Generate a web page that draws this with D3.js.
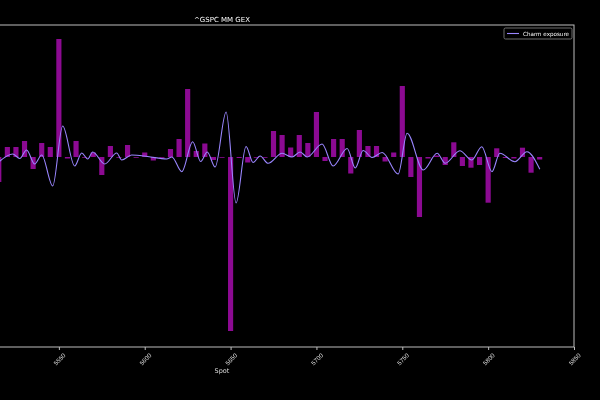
<!DOCTYPE html>
<html>
<head>
<meta charset="utf-8">
<script src="https://cdn.jsdelivr.net/npm/d3@7"></script>
<style>
  html, body { margin: 0; padding: 0; background: #000; }
  svg { display: block; font-family: "DejaVu Sans", sans-serif; will-change: transform; }
  text { -webkit-font-smoothing: antialiased; }
</style>
</head>
<body>
<svg id="chart" width="600" height="400"></svg>
<script>
// ---- Data ----
const strikes = [5515,5520,5525,5530,5535,5540,5545,5550,5555,5560,5565,5570,5575,5580,5585,5590,5595,5600,5605,5610,5615,5620,5625,5630,5635,5640,5645,5650,5655,5660,5665,5670,5675,5680,5685,5690,5695,5700,5705,5710,5715,5720,5725,5730,5735,5740,5745,5750,5755,5760,5765,5770,5775,5780,5785,5790,5795,5800,5805,5810,5815,5820,5825,5830];
const gexValues = [-0.25,0.10,0.10,0.16,-0.12,0.14,0.10,1.18,-0.015,0.16,0.0,0.045,-0.18,0.11,0.0,0.12,0.0,0.045,-0.035,0.0,0.08,0.18,0.68,0.06,0.135,-0.03,-0.008,-1.74,-0.01,-0.055,0.0,0.0,0.26,0.22,0.095,0.22,0.14,0.45,-0.04,0.18,0.18,-0.165,0.27,0.11,0.11,-0.045,0.045,0.71,-0.20,-0.60,-0.015,0.015,-0.08,0.147,-0.09,-0.107,-0.08,-0.457,0.087,-0.01,-0.015,0.093,-0.157,-0.025];

const charmSpot = [5515,5523.1,5527.2,5531.2,5535.9,5540.0,5546.4,5552.2,5559.2,5563.3,5566.8,5569.7,5576.7,5583.7,5586.6,5592.4,5601.7,5612.8,5615.8,5621.6,5627.9,5632.6,5636.4,5641.0,5647.4,5653.2,5659.0,5663.1,5667.2,5671.8,5680.0,5685.8,5690.5,5694.6,5703.3,5709.7,5717.9,5722.6,5727.2,5732.4,5738.3,5747.6,5752.8,5762.2,5770.3,5775.0,5783.5,5790.5,5796.3,5802.2,5806.8,5815.6,5822.6,5830.1];
const charmValues = [-0.05,0.03,-0.015,0.07,-0.07,0.02,-0.29,0.31,-0.09,0.04,-0.02,0.05,-0.07,0.04,-0.03,0.02,0.005,-0.02,0.0,-0.147,0.153,-0.045,0.05,-0.10,0.45,-0.46,0.105,-0.055,0.01,-0.063,0.037,0.0,0.05,0.0,0.13,-0.09,0.085,-0.11,0.065,-0.005,0.045,-0.17,0.237,-0.13,0.037,-0.063,0.063,-0.03,0.103,-0.147,0.037,-0.047,0.053,-0.123];

const xTicks = [5550,5600,5650,5700,5750,5800,5850];
const titleText = "^GSPC MM GEX";
const xLabel = "Spot";
const legendLabel = "Charm exposure";

// ---- Layout ----
const svg = d3.select("#chart");
const plot = { left: -130, right: 574, top: 25, bottom: 347 };
const barColor = "#8c0a92";
const lineColor = "#9a86ff";
const fg = "#dcdcdc";

const x = d3.scaleLinear().domain([5440, 5850]).range([plot.left, plot.right]);
const y = d3.scaleLinear().domain([-1.90, 1.32]).range([plot.bottom, plot.top]);
const barW = 3;

svg.append("rect").attr("width", 600).attr("height", 400).attr("fill", "#000");

// Bars
svg.append("g").selectAll("rect")
  .data(strikes.map((s, i) => ({ s, v: gexValues[i] })))
  .join("rect")
  .attr("x", d => x(d.s - barW / 2))
  .attr("width", d => x(d.s + barW / 2) - x(d.s - barW / 2))
  .attr("y", d => y(Math.max(0, d.v)))
  .attr("height", d => Math.max(0.8, Math.abs(y(d.v) - y(0))))
  .attr("fill", barColor);

// Charm line
const line = d3.line()
  .x(d => x(d[0]))
  .y(d => y(d[1]))
  .curve(d3.curveMonotoneX);
svg.append("path")
  .datum(charmSpot.map((s, i) => [s, charmValues[i]]))
  .attr("d", line)
  .attr("fill", "none")
  .attr("stroke", lineColor)
  .attr("stroke-width", 1.1);

// Spines
svg.append("rect")
  .attr("x", plot.left).attr("y", plot.top)
  .attr("width", plot.right - plot.left).attr("height", plot.bottom - plot.top)
  .attr("fill", "none").attr("stroke", "#bdbdbd").attr("stroke-width", 1);

// X axis
const xAxis = d3.axisBottom(x).tickValues(xTicks).tickSize(3).tickFormat(d3.format("d"));
const gx = svg.append("g").attr("transform", `translate(0,${plot.bottom})`).call(xAxis);
gx.select(".domain").remove();
gx.selectAll(".tick line").attr("stroke", "#bdbdbd");
gx.selectAll(".tick text")
  .attr("fill", fg)
  .attr("font-size", 6.2)
  .attr("text-anchor", "middle")
  .attr("dominant-baseline", "central")
  .attr("y", 0).attr("dy", 0)
  .attr("transform", "translate(0,12) rotate(-45)");

// Axis label
svg.append("text")
  .attr("x", (plot.left + plot.right) / 2).attr("y", 373)
  .attr("text-anchor", "middle").attr("fill", fg).attr("font-size", 6.5)
  .text(xLabel);

// Title
svg.append("text")
  .attr("x", (plot.left + plot.right) / 2).attr("y", 21.5)
  .attr("text-anchor", "middle").attr("fill", "#fff").attr("font-size", 7)
  .text(titleText);

// Legend
const lg = svg.append("g").attr("transform", "translate(504,28)");
lg.append("rect").attr("width", 68).attr("height", 11).attr("rx", 1.5)
  .attr("fill", "#000").attr("stroke", "#888").attr("stroke-width", 0.8);
lg.append("line").attr("x1", 3).attr("x2", 15).attr("y1", 5.5).attr("y2", 5.5)
  .attr("stroke", lineColor).attr("stroke-width", 1.1);
lg.append("text").attr("x", 19).attr("y", 7.6)
  .attr("fill", "#fff").attr("font-size", 5.6).text(legendLabel);
</script>
</body>
</html>
